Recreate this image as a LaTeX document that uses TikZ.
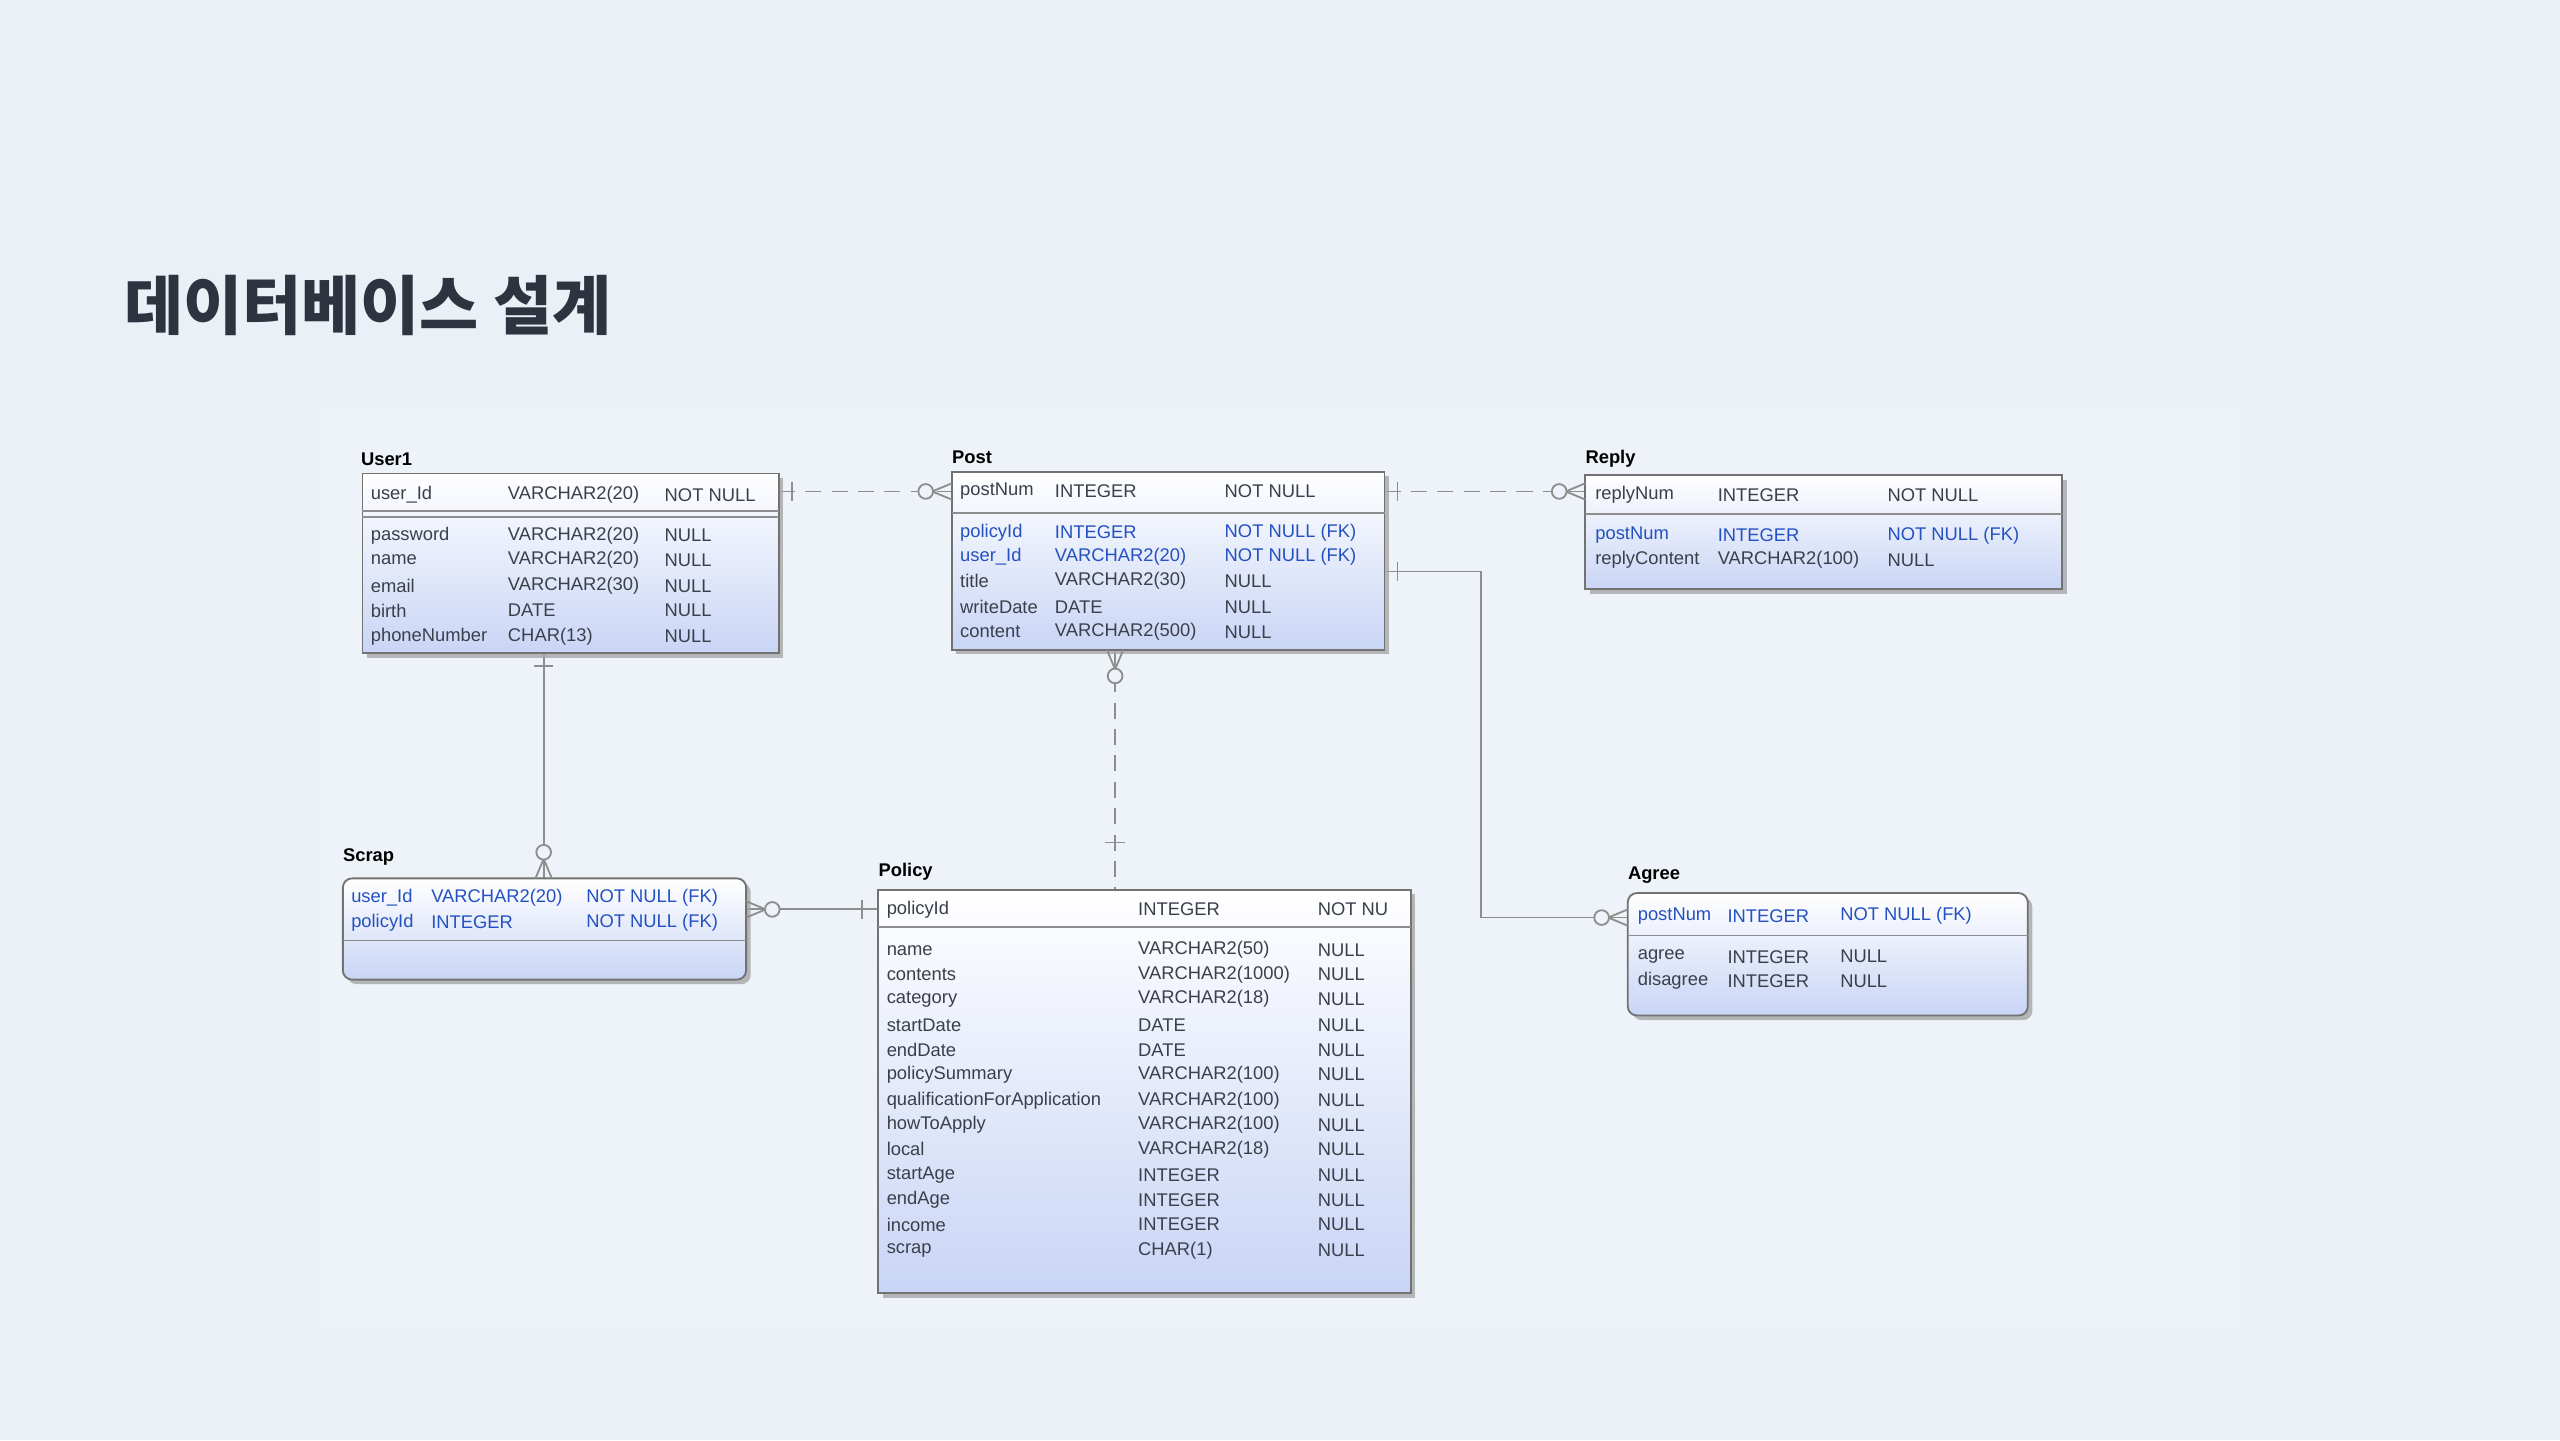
\documentclass[tikz,border=0pt]{standalone}
\usepackage{fontspec}
\setmainfont{Liberation Sans}
\newfontfamily\kr{Noto Sans CJK KR}
\usetikzlibrary{fit,shadows,calc}
\definecolor{pagebg}{HTML}{EBEFF6}
\definecolor{panel}{HTML}{EEF3F9}
\definecolor{txt}{HTML}{3A3F4A}
\definecolor{fk}{HTML}{2351C2}
\definecolor{boxbot}{HTML}{C9D5F6}
\definecolor{conn}{HTML}{8E8E8E}
\definecolor{title}{HTML}{2D3440}
\tikzset{
 tbl/.style={draw=conn!80!black, line width=1.6pt, inner sep=0, top color=white, bottom color=boxbot,
   drop shadow={shadow xshift=4pt, shadow yshift=-4pt, fill=gray!70, opacity=0.8}},
 rtbl/.style={tbl, rounded corners=8pt},
 ct/.style={font=\fontsize{16}{16}\selectfont, text=txt, inner sep=0, anchor=west},
 cb/.style={ct, text=fk},
 lbl/.style={font=\bfseries\fontsize{16}{16}\selectfont, inner sep=0, anchor=west, text=black},
 sepl/.style={draw=conn, line width=1.6pt},
 cline/.style={draw=conn, line width=1.6pt},
 dline/.style={cline, dash pattern=on 14pt off 9pt},
}
% marks: horizontal, box at right of point (x,y) ; dir = +1 box at right, -1 box at left
\newcommand\crowH[3]{% x y dir
 \draw[cline] ({#1-#3*12},#2) -- (#1,{#2-5}) ({#1-#3*12},#2) -- (#1,{#2+5});
 \draw[cline,fill=panel] ({#1-#3*16},#2) circle (4.5);}
\newcommand\crowV[3]{% x y dir (+1 box below)
 \draw[cline] (#1,{#2-#3*12}) -- ({#1-5},#2) (#1,{#2-#3*12}) -- ({#1+5},#2);
 \draw[cline,fill=panel] (#1,{#2-#3*16}) circle (4.5);}
\newcommand\barH[2]{\draw[cline] (#1,{#2-6}) -- (#1,{#2+6});}
\newcommand\barV[2]{\draw[cline] ({#1-6},#2) -- ({#1+6},#2);}
\begin{document}
\begin{tikzpicture}[x=0.05cm,y=-0.05cm]
\useasboundingbox (0,0) rectangle (1568,882);
\fill[pagebg] (0,0) rectangle (1568,882);
\fill[panel] (196,249) rectangle (1372,813);
\node[font=\kr\bfseries\fontsize{56}{56}\selectfont, text=title, anchor=west, inner sep=0] (ttl) at (76,187) {데이터베이스 설계};

% ---- connectors ----
\coordinate (a1) at (477,301); \coordinate (a2) at (583,301);
\draw[dline] (a1) -- (a2);
\coordinate (b1) at (848,301); \coordinate (b2) at (971,301);
\draw[dline] (b1) -- (b2);
\coordinate (c1) at (333,400); \coordinate (c2) at (333,538);
\draw[cline] (c1) -- (c2);
\coordinate (d1) at (683,398); \coordinate (d2) at (683,545);
\draw[dline] (d1) -- (d2);
\coordinate (e1) at (457,557); \coordinate (e2) at (538,557);
\draw[cline] (e1) -- (e2);
\coordinate (f1) at (848,350); \coordinate (f2) at (997,562);
\draw[cline] (f1) -- (907,350) |- (f2);

% ---- tables ----
\node[tbl, fit={(222,290) (477,400)}] (user) {};
\node[tbl, fit={(583,289) (848,398)}] (post) {};
\node[tbl, fit={(971,291) (1263,361)}] (reply) {};
\node[rtbl, fit={(210,538) (457,600)}] (scrap) {};
\node[tbl, fit={(538,545) (864,792)}] (policy) {};
\node[rtbl, fit={(997,547) (1242,622)}] (agree) {};

% marks
\barH{485}{301} \crowH{583}{301}{1}
\barH{856}{301} \crowH{971}{301}{1}
\barV{333}{408} \crowV{333}{538}{1}
\crowV{683}{398}{-1} \barV{683}{516}
\crowH{457}{557}{-1} \barH{528}{557}
\barH{856}{350} \crowH{997}{562}{1}

% separators
\draw[sepl] (222,313) -- (477,313); \draw[sepl] (222,316.5) -- (477,316.5);
\draw[sepl] (583,314) -- (848,314);
\draw[sepl] (971,315) -- (1263,315);
\draw[sepl] (210,576) -- (457,576);
\draw[sepl] (538,568) -- (864,568);
\draw[sepl] (997,573) -- (1242,573);

% labels
\node[lbl] (lu) at (221,281) {User1};
\node[lbl] (lp) at (583,280) {Post};
\node[lbl] (lr) at (971,281) {Reply};
\node[lbl] (ls) at (210,525) {Scrap};
\node[lbl] (lpo) at (538,534) {Policy};
\node[lbl] (la) at (997,536) {Agree};

% User1
\node[ct] at (227,303) {user\_Id}; \node[ct] at (311,303) {VARCHAR2(20)}; \node[ct] at (407,303) {NOT NULL};
\foreach \n/\t/\k/\y in {password/VARCHAR2(20)/NULL/328, name/VARCHAR2(20)/NULL/343, email/VARCHAR2(30)/NULL/359, birth/DATE/NULL/374, phoneNumber/CHAR(13)/NULL/390}{
 \node[ct] at (227,\y) {\n}; \node[ct] at (311,\y) {\t}; \node[ct] at (407,\y) {\k};}

% Post
\node[ct] at (588,301) {postNum}; \node[ct] at (646,301) {INTEGER}; \node[ct] at (750,301) {NOT NULL};
\node[cb] at (588,326) {policyId}; \node[cb] at (646,326) {INTEGER}; \node[cb] at (750,326) {NOT NULL (FK)};
\node[cb] at (588,341) {user\_Id}; \node[cb] at (646,341) {VARCHAR2(20)}; \node[cb] at (750,341) {NOT NULL (FK)};
\foreach \n/\t/\k/\y in {title/VARCHAR2(30)/NULL/356, writeDate/DATE/NULL/372, content/VARCHAR2(500)/NULL/387}{
 \node[ct] at (588,\y) {\n}; \node[ct] at (646,\y) {\t}; \node[ct] at (750,\y) {\k};}

% Reply
\node[ct] at (977,303) {replyNum}; \node[ct] at (1052,303) {INTEGER}; \node[ct] at (1156,303) {NOT NULL};
\node[cb] at (977,328) {postNum}; \node[cb] at (1052,328) {INTEGER}; \node[cb] at (1156,328) {NOT NULL (FK)};
\node[ct] at (977,343) {replyContent}; \node[ct] at (1052,343) {VARCHAR2(100)}; \node[ct] at (1156,343) {NULL};

% Scrap
\node[cb] at (215,550) {user\_Id}; \node[cb] at (264,550) {VARCHAR2(20)}; \node[cb] at (359,550) {NOT NULL (FK)};
\node[cb] at (215,565) {policyId}; \node[cb] at (264,565) {INTEGER}; \node[cb] at (359,565) {NOT NULL (FK)};

% Policy
\node[ct] at (543,557) {policyId}; \node[ct] at (697,557) {INTEGER}; \node[ct] at (807,557) {NOT NU};
\foreach \n/\t/\y in {name/VARCHAR2(50)/582, contents/VARCHAR2(1000)/597, category/VARCHAR2(18)/612, startDate/DATE/628, endDate/DATE/643, policySummary/VARCHAR2(100)/658, qualificationForApplication/VARCHAR2(100)/674, howToApply/VARCHAR2(100)/689, local/VARCHAR2(18)/704, startAge/INTEGER/720, endAge/INTEGER/735, income/INTEGER/750, scrap/CHAR(1)/766}{
 \node[ct] at (543,\y) {\n}; \node[ct] at (697,\y) {\t}; \node[ct] at (807,\y) {NULL};}

% Agree
\node[cb] at (1003,561) {postNum}; \node[cb] at (1058,561) {INTEGER}; \node[cb] at (1127,561) {NOT NULL (FK)};
\node[ct] at (1003,586) {agree}; \node[ct] at (1058,586) {INTEGER}; \node[ct] at (1127,586) {NULL};
\node[ct] at (1003,601) {disagree}; \node[ct] at (1058,601) {INTEGER}; \node[ct] at (1127,601) {NULL};
\end{tikzpicture}
\end{document}
